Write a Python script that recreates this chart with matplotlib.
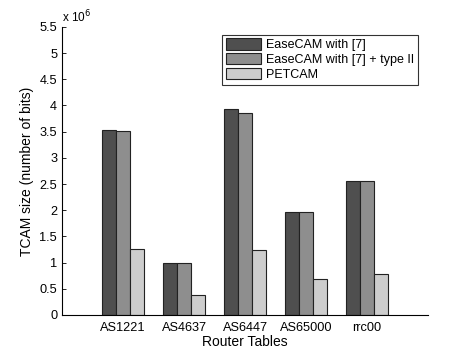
import matplotlib.pyplot as plt
import numpy as np

# values in units of 1e6 bits
tables = ["AS1221", "AS4637", "AS6447", "AS65000", "rrc00"]
easecam = [3.54, 1.00, 3.93, 1.96, 2.56]
easecam_type2 = [3.52, 1.00, 3.86, 1.96, 2.55]
petcam = [1.25, 0.38, 1.24, 0.69, 0.79]

labels = ["EaseCAM with [7]", "EaseCAM with [7] + type II", "PETCAM"]
colors = ["#4f4f4f", "#8e8e8e", "#cdcdcd"]

plt.rcParams["font.family"] = ["Liberation Sans", "DejaVu Sans"]

fig = plt.figure(figsize=(4.74, 3.55), dpi=100)
ax = fig.add_axes([0.131, 0.113, 0.772, 0.811])

x = np.arange(1, len(tables) + 1)
w = 0.227
for i, (vals, lab, c) in enumerate(zip([easecam, easecam_type2, petcam], labels, colors)):
    ax.bar(x + (i - 1) * w, vals, width=w, color=c, edgecolor="#222222",
           linewidth=0.8, label=lab)

ax.set_xlim(0, 6)
ax.set_ylim(0, 5.5)
ax.set_xticks(x)
ax.set_xticklabels(tables)
ax.set_yticks(np.arange(0, 5.51, 0.5))
ax.set_yticklabels(["0", "0.5", "1", "1.5", "2", "2.5", "3", "3.5", "4", "4.5", "5", "5.5"])
ax.tick_params(direction="in", length=3, labelsize=9.2, width=0.6)
ax.tick_params(axis="x", length=0, pad=5)
ax.spines["top"].set_visible(False)
ax.spines["right"].set_visible(False)
for s in ("left", "bottom"):
    ax.spines[s].set_linewidth(0.8)

ax.set_ylabel("TCAM size (number of bits)", fontsize=10, labelpad=4)
ax.set_xlabel("Router Tables", fontsize=10, labelpad=1)
ax.text(0.0, 1.005, r"x 10$^6$", transform=ax.transAxes, fontsize=8.5,
        ha="left", va="bottom")

leg = ax.legend(loc="upper right", bbox_to_anchor=(0.99, 0.995), fontsize=9,
                frameon=True, fancybox=False, edgecolor="black",
                handlelength=2.8, handleheight=1.0, borderpad=0.3,
                labelspacing=0.15, handletextpad=0.4)
leg.get_frame().set_linewidth(0.8)

fig.savefig("out.png", dpi=100)
